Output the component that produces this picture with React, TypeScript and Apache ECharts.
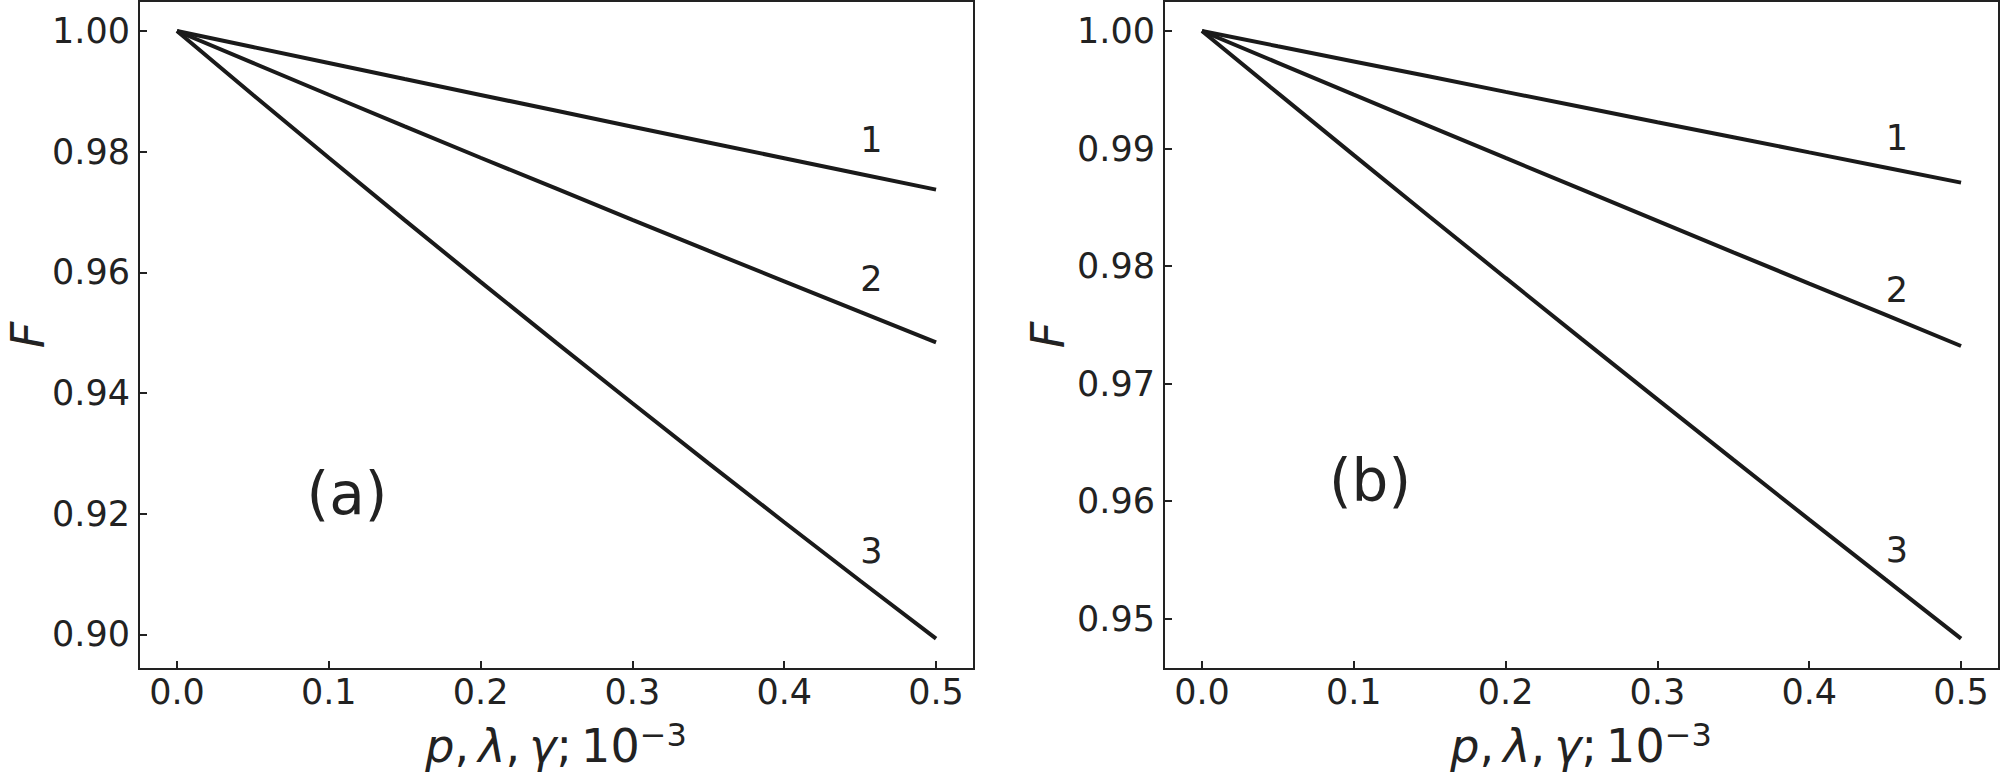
import React, { useEffect, useRef } from "react";
import * as echarts from "echarts";

const X = [0, 0.05, 0.1, 0.15, 0.2, 0.25, 0.3, 0.35, 0.4, 0.45, 0.5];
const A1 = [1, 0.99734, 0.99469, 0.99204, 0.9894, 0.98677, 0.98414, 0.98152, 0.97891, 0.9763, 0.9737];
const A2 = [1, 0.99472, 0.98943, 0.9842, 0.97899, 0.97386, 0.9687, 0.96358, 0.9585, 0.95343, 0.9484];
const A3 = [1, 0.98944, 0.97899, 0.96865, 0.95842, 0.9483, 0.93829, 0.92838, 0.91858, 0.90888, 0.89928];
const B1 = [1, 0.9987, 0.99741, 0.99612, 0.99482, 0.99353, 0.99224, 0.99096, 0.98967, 0.98839, 0.9871];
const B2 = [1, 0.99729, 0.99458, 0.99189, 0.9892, 0.98652, 0.98384, 0.98117, 0.97851, 0.97586, 0.9732];
const B3 = [1, 0.99471, 0.98944, 0.9842, 0.97899, 0.97381, 0.96866, 0.96353, 0.95843, 0.95336, 0.94831];

const X_TICKS = [0, 0.1, 0.2, 0.3, 0.4, 0.5];
const A_Y_TICKS = [0.9, 0.92, 0.94, 0.96, 0.98, 1.0];
const B_Y_TICKS = [0.95, 0.96, 0.97, 0.98, 0.99, 1.0];
const CURVE_NAMES = ["1", "2", "3"];
const PANEL_NAMES = ["(a)", "(b)"];

const FONT = "DejaVu Sans";
const INK = "#222222";

function pairs(ys: number[]) {
  return X.map((x, i) => [x, ys[i]]);
}

function xAxis(gridIndex: number) {
  return {
    type: "value",
    gridIndex,
    position: "bottom",
    min: -0.025,
    max: 0.525,
    axisLine: { show: false, onZero: false },
    splitLine: { show: false },
    axisTick: {
      show: true,
      inside: true,
      length: 8,
      customValues: X_TICKS,
      lineStyle: { color: INK, width: 2 },
    },
    axisLabel: {
      show: true,
      customValues: X_TICKS,
      margin: 5,
      fontSize: 35,
      lineHeight: 35,
      fontFamily: FONT,
      color: INK,
      formatter: (v: number) => v.toFixed(1),
    },
  };
}

function yAxis(gridIndex: number, min: number, max: number, ticks: number[]) {
  return {
    type: "value",
    gridIndex,
    position: "left",
    min,
    max,
    axisLine: { show: false, onZero: false },
    splitLine: { show: false },
    axisTick: {
      show: true,
      inside: true,
      length: 8,
      customValues: ticks,
      lineStyle: { color: INK, width: 2 },
    },
    axisLabel: {
      show: true,
      customValues: ticks,
      margin: 9,
      fontSize: 35,
      lineHeight: 35,
      fontFamily: FONT,
      color: INK,
      formatter: (v: number) => v.toFixed(2),
    },
  };
}

function lineSeries(ys: number[], idx: number) {
  return {
    type: "line",
    xAxisIndex: idx,
    yAxisIndex: idx,
    data: pairs(ys),
    showSymbol: false,
    symbol: "none",
    smooth: false,
    lineStyle: { color: "#1a1a1a", width: 4 },
    silent: true,
  };
}

function txt(text: string, x: number, y: number, size: number, extra: any = {}) {
  return {
    type: "text",
    x,
    y,
    silent: true,
    ...extra,
    style: {
      text,
      fontSize: size,
      fontFamily: FONT,
      fill: INK,
      align: "center",
      verticalAlign: "middle",
      textAlign: "center",
      textVerticalAlign: "middle",
      ...(extra.style || {}),
    },
  };
}

function xLabel(cx: number) {
  return {
    type: "text",
    x: cx,
    y: 746,
    silent: true,
    style: {
      text: "{i|p}{n|,\u2009}{i|λ}{n|,\u2009}{i|γ}{n|;\u2009}{n|10}{s|\u22123}",
      fill: INK,
      align: "center",
      verticalAlign: "middle",
      textAlign: "center",
      textVerticalAlign: "middle",
      rich: {
        i: { fontStyle: "italic", fontSize: 46, fontFamily: FONT, lineHeight: 54, fill: INK, color: INK },
        n: { fontSize: 46, fontFamily: FONT, lineHeight: 54, fill: INK, color: INK },
        s: { fontSize: 32, fontFamily: FONT, lineHeight: 32, verticalAlign: "top", fill: INK, color: INK },
      },
    },
  };
}

export default function App() {
  const ref = useRef<HTMLDivElement>(null);

  useEffect(() => {
    document.body.style.margin = "0";
    if (!ref.current) return;
    const chart = echarts.init(ref.current, undefined, { renderer: "svg" });
    const option: any = {
      animation: false,
      backgroundColor: "#ffffff",
      grid: [
        { left: 139, top: 1, width: 835, height: 668, show: true, borderColor: INK, borderWidth: 2, backgroundColor: "transparent" },
        { left: 1164, top: 1, width: 835, height: 668, show: true, borderColor: INK, borderWidth: 2, backgroundColor: "transparent" },
      ],
      xAxis: [xAxis(0), xAxis(1)],
      yAxis: [
        yAxis(0, 0.89425, 1.00497, A_Y_TICKS),
        yAxis(1, 0.94572, 1.00255, B_Y_TICKS),
      ],
      series: [
        lineSeries(A1, 0),
        lineSeries(A2, 0),
        lineSeries(A3, 0),
        lineSeries(B1, 1),
        lineSeries(B2, 1),
        lineSeries(B3, 1),
      ],
      graphic: [
        txt(CURVE_NAMES[0], 871.5, 140, 35),
        txt(CURVE_NAMES[1], 871.5, 279, 35),
        txt(CURVE_NAMES[2], 871.5, 551, 35),
        txt(CURVE_NAMES[0], 1897, 137.5, 35),
        txt(CURVE_NAMES[1], 1897, 290, 35),
        txt(CURVE_NAMES[2], 1897, 549.5, 35),
        txt(PANEL_NAMES[0], 347, 494, 58),
        txt(PANEL_NAMES[1], 1370, 481, 58),
        txt("F", 28, 335, 46, { rotation: Math.PI / 2, style: { fontStyle: "italic" } }),
        txt("F", 1048, 335, 46, { rotation: Math.PI / 2, style: { fontStyle: "italic" } }),
        xLabel(556),
        xLabel(1581),
      ],
    };
    chart.setOption(option);
    return () => {
      chart.dispose();
    };
  }, []);

  return (
    <div
      ref={ref}
      style={{ position: "absolute", left: 0, top: 0, width: 2000, height: 772, background: "#fff" }}
    />
  );
}
